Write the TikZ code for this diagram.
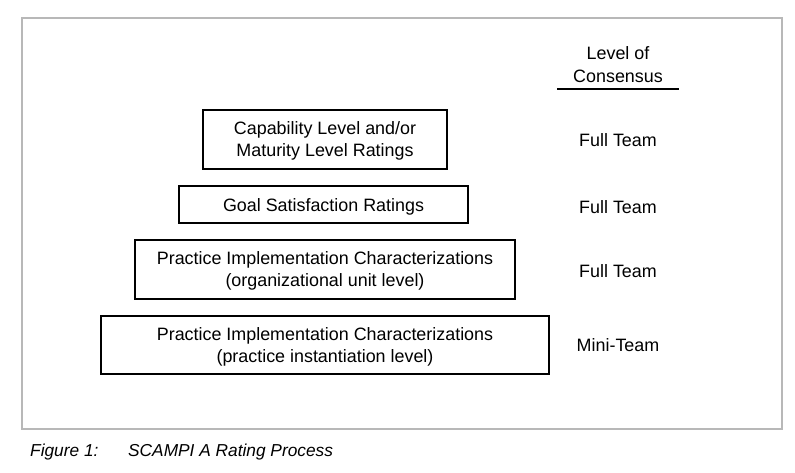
\documentclass[tikz,border=0pt]{standalone}
\usepackage{fontspec}
\setmainfont{Liberation Sans}
\begin{document}
\begin{tikzpicture}[x=1pt,y=-1pt,
  rbox/.style={draw=black, line width=1.8pt, inner sep=0pt},
  lbl/.style={font=\fontsize{17.9}{22}\selectfont, align=center, inner sep=0pt},
  figcaption/.style={font=\fontsize{17.3}{20}\selectfont\itshape, inner sep=0pt, anchor=west}]
\useasboundingbox (0,0) rectangle (795,472);
\draw[draw=black!28, line width=1.2pt] (22,18) rectangle (782,429);
% boxes
\node[rbox, minimum width=244pt, minimum height=59pt] (b1) at (325,139.5) {};
\node[rbox, minimum width=289pt, minimum height=37pt] (b2) at (323.5,204.5) {};
\node[rbox, minimum width=380pt, minimum height=59pt] (b3) at (325,269.5) {};
\node[rbox, minimum width=448pt, minimum height=58pt] (b4) at (325,345) {};
\node[lbl] (t1) at ([yshift=-1.5pt]b1.center) {Capability Level and/or\\Maturity Level Ratings};
\node[lbl] (t2) at ([yshift=-2.5pt]b2.center) {Goal Satisfaction Ratings};
\node[lbl] (t3) at ([yshift=-1.5pt]b3.center) {Practice Implementation Characterizations\\(organizational unit level)};
\node[lbl] (t4) at ([yshift=-1.5pt]b4.center) {Practice Implementation Characterizations\\(practice instantiation level)};
% consensus column
\node[lbl, font=\fontsize{17.9}{23}\selectfont] (hd) at (618,64.5) {Level of\\Consensus};
\coordinate (r1) at (557,89);
\coordinate (r2) at (679,89);
\draw[line width=1.4pt] (r1) -- (r2);
\node[lbl] (c1) at (618,140) {Full Team};
\node[lbl] (c2) at (618,207) {Full Team};
\node[lbl] (c3) at (618,271) {Full Team};
\node[lbl] (c4) at (618,345) {Mini-Team};
% caption
\node[figcaption] (f1) at (30,452.5) {Figure 1:};
\node[figcaption] (f2) at (128,452.5) {SCAMPI A Rating Process};
\end{tikzpicture}
\end{document}
